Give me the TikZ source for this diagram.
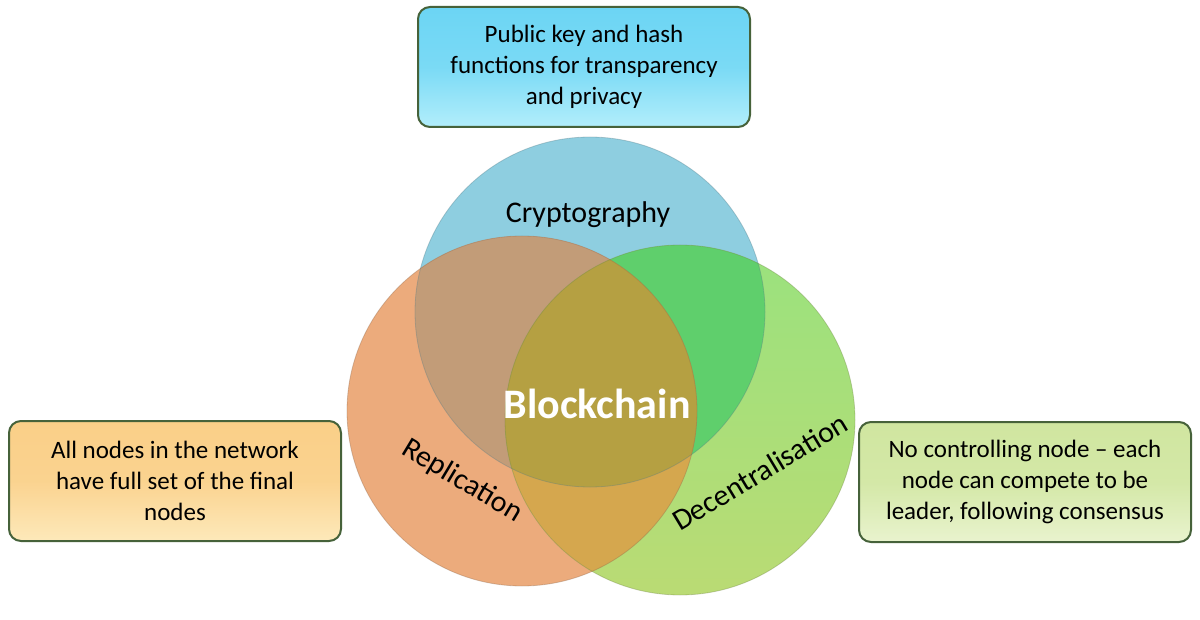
\documentclass[tikz,border=0pt]{standalone}
\usepackage{fontspec}
\setmainfont{Carlito}
\usepackage{tikz}

\definecolor{cryptoblue}{HTML}{8ECEE0}
\definecolor{replorange}{HTML}{ECAB7C}
\definecolor{decgreentop}{HTML}{9AE27E}
\definecolor{decgreenbot}{HTML}{BADB74}
\definecolor{blueorange}{HTML}{C29C78}
\definecolor{bluegreen}{HTML}{5FCF6C}
\definecolor{orangegreen}{HTML}{D5A74E}
\definecolor{allthree}{HTML}{B5A042}
\definecolor{boxedge}{HTML}{46623A}
\definecolor{keystop}{HTML}{6CD5F4}
\definecolor{keysbot}{HTML}{B2EEFB}
\definecolor{nodestop}{HTML}{FACF88}
\definecolor{nodesbot}{HTML}{FDE9BA}
\definecolor{leadertop}{HTML}{D0E6A0}
\definecolor{leaderbot}{HTML}{E9F3CE}

\tikzset{
  infobox/.style={draw=boxedge, line width=2pt, rounded corners=12pt,
    minimum width=332pt, minimum height=120pt, align=center, inner sep=0pt,
    font=\fontsize{25}{31}\selectfont},
  ringlabel/.style={font=\fontsize{30}{36}\selectfont},
  ringedge/.style={draw opacity=0.35, line width=0.8pt}
}

\begin{document}
\begin{tikzpicture}[x=1pt,y=-1pt]
  \useasboundingbox (0,0) rectangle (1200,620);
  % Circle centres
  \coordinate (cb) at (590,312);
  \coordinate (co) at (522,411);
  \coordinate (cg) at (680,420);
  \def\rr{175pt}
  % Single circles
  \fill[cryptoblue] (cb) circle[radius=\rr];
  \fill[replorange] (co) circle[radius=\rr];
  \shade[top color=decgreentop, bottom color=decgreenbot] (cg) circle[radius=\rr];
  % Overlaps
  \begin{scope}
    \clip (cb) circle[radius=\rr];
    \fill[blueorange] (co) circle[radius=\rr];
    \fill[bluegreen] (cg) circle[radius=\rr];
  \end{scope}
  \begin{scope}
    \clip (co) circle[radius=\rr];
    \fill[orangegreen] (cg) circle[radius=\rr];
    \clip (cb) circle[radius=\rr];
    \fill[allthree] (cg) circle[radius=\rr];
  \end{scope}
  % Circle edges
  \draw[ringedge, draw=cryptoblue!60!black] (cb) circle[radius=\rr];
  \draw[ringedge, draw=replorange!60!black] (co) circle[radius=\rr];
  \draw[ringedge, draw=decgreenbot!60!black] (cg) circle[radius=\rr];
  % Labels
  \node[ringlabel] (crypto) at (588,215) {Cryptography};
  \node[ringlabel, rotate=-31] (repl) at (462,481) {Replication};
  \node[ringlabel, rotate=31] (decent) at (760,472) {Decentralisation};
  \node[white, font=\fontsize{42}{48}\selectfont\bfseries] (chain) at (597,404) {Blockchain};
  % Text boxes
  \node[infobox, top color=keystop, bottom color=keysbot, middle color=keystop!80!keysbot] (keys) at (584,67)
    {Public key and hash\\functions for transparency\\and privacy};
  \node[infobox, top color=nodestop, bottom color=nodesbot, middle color=nodestop!85!nodesbot] (nodes) at (175,481)
    {All nodes in the network\\have full set of the final\\nodes};
  \node[infobox, top color=leadertop, bottom color=leaderbot, middle color=leadertop!85!leaderbot] (leader) at (1025,482)
    {No controlling node – each\\node can compete to be\\leader, following consensus};
\end{tikzpicture}
\end{document}
